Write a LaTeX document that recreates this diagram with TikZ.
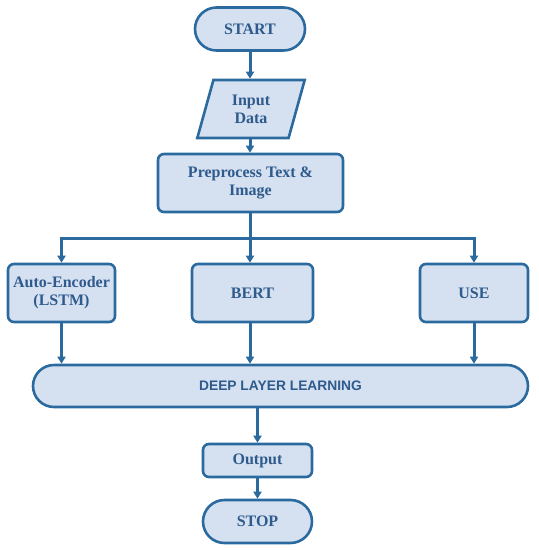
\documentclass[tikz,border=0pt]{standalone}
\usepackage{fontspec}
\setmainfont{Liberation Serif}
\newfontfamily\dsans{Liberation Sans}
\usetikzlibrary{shapes.geometric,shapes.misc,arrows.meta}
\definecolor{bfill}{HTML}{D5E1F1}
\definecolor{bline}{HTML}{2B6A9E}
\definecolor{btext}{HTML}{2E5A8C}
\tikzset{
  x=1pt,y=-1pt,
  base/.style={draw=bline, fill=bfill, line width=2.6pt, text=btext, font=\bfseries\fontsize{16}{18}\selectfont, align=center, inner sep=0pt},
  term/.style={base, rounded rectangle},
  boxn/.style={base, rectangle, rounded corners=6pt},
  io/.style={base, trapezium, trapezium left angle=74, trapezium right angle=106, trapezium stretches=true},
  arr/.style={draw=bline, line width=3pt, -{Triangle[length=7pt,width=8pt]}},
  ln/.style={draw=bline, line width=3pt}
}
\begin{document}
\begin{tikzpicture}
\useasboundingbox (0,0) rectangle (539,550);
\node[term, minimum width=110pt, minimum height=43pt] (start) at (250,29) {START};
\node[io, minimum width=108pt, minimum height=58pt] (input) at (251,109) {Input\\Data};
\node[boxn, minimum width=185pt, minimum height=58pt] (pre) at (250.5,183) {Preprocess Text \&\\Image};
\node[boxn, minimum width=107pt, minimum height=58pt] (ae) at (61.5,293) {Auto-Encoder\\(LSTM)};
\node[boxn, minimum width=121pt, minimum height=58pt] (bert) at (252.5,293) {BERT};
\node[boxn, minimum width=108pt, minimum height=58pt] (use) at (474,293) {USE};
\node[term, minimum width=495pt, minimum height=42pt, font=\dsans\bfseries\fontsize{13.8}{16}\selectfont] (deep) at (280.5,386) {DEEP LAYER LEARNING};
\node[boxn, minimum width=109pt, minimum height=33pt] (out) at (257.5,460.5) {Output};
\node[term, minimum width=109pt, minimum height=43pt] (stop) at (257.5,521.5) {STOP};
\draw[arr] (start.south) -- (start.south |- input.north);
\draw[arr] (input.south -| start.south) -- (pre.north -| start.south);
\coordinate (split) at (250,238);
\draw[ln] (pre.south -| split) -- (split);
\draw[arr] (split) -| (ae.north);
\draw[arr] (split) -| (use.north);
\draw[arr] (split) -- (bert.north -| split);
\draw[arr] (ae.south) -- (ae.south |- deep.north);
\draw[arr] (bert.south -| split) -- (deep.north -| split);
\draw[arr] (use.south) -- (use.south |- deep.north);
\draw[arr] (deep.south -| out.north) -- (out.north);
\draw[arr] (out.south) -- (stop.north);
\end{tikzpicture}
\end{document}
